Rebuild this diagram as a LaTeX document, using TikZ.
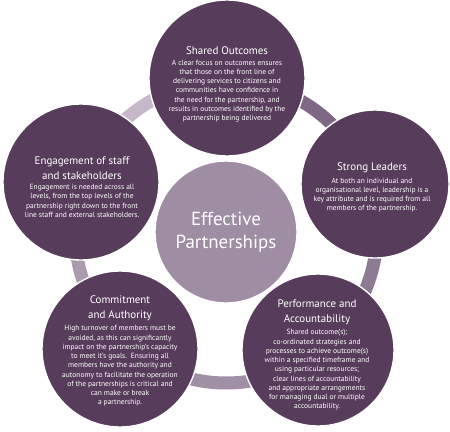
\documentclass[tikz,border=0pt]{standalone}
\usepackage{fontspec}
\setmainfont{PT Sans}
\usepackage{tikz}
\usetikzlibrary{positioning, calc}
\definecolor{plum}{HTML}{583C5C}
\definecolor{hubFill}{HTML}{9E8DA3}
\definecolor{ringTL}{HTML}{C5B9C9}
\definecolor{ringTR}{HTML}{7E6885}
\definecolor{ringR}{HTML}{8D7A93}
\definecolor{ringB}{HTML}{A090A6}
\definecolor{ringL}{HTML}{AA9BAF}

\begin{document}
\begin{tikzpicture}[x=1bp, y=1bp, node distance=4.5bp]
    \tikzset{
      pillar/.style={circle, fill=plum, draw=white, line width=1.4bp,
                     minimum size=156bp, inner sep=0pt},
      hubc/.style={circle, fill=hubFill, draw=white, line width=1.4bp,
                   minimum size=142bp, inner sep=0pt, text=white, align=center,
                   font=\fontsize{19}{23}\selectfont},
      head/.style={text=white, align=center, inner sep=0pt,
                   font=\fontsize{11}{14.5}\selectfont},
      body/.style={text=white, align=center, inner sep=0pt,
                   font=\fontsize{7.5}{9.3}\selectfont},
      ring/.style={line width=13bp}
    }
    \fill[white] (0,0) rectangle (450,431);
    \useasboundingbox (0,0) rectangle (450,431);
    \coordinate (mid) at (226,199);
    % ring behind the circles
    \draw[ring, draw=ringTR] ($(mid)+(89.6:151)$) arc[start angle=89.6, end angle=17.9, radius=151];
    \draw[ring, draw=ringR] ($(mid)+(17.9:151)$) arc[start angle=17.9, end angle=-52, radius=151];
    \draw[ring, draw=ringB] ($(mid)+(-52:151)$) arc[start angle=-52, end angle=-132, radius=151];
    \draw[ring, draw=ringL] ($(mid)+(-132:151)$) arc[start angle=-132, end angle=-199, radius=151];
    \draw[ring, draw=ringTL] ($(mid)+(161:151)$) arc[start angle=161, end angle=89.6, radius=151];
    % circles
    \node[hubc] (hub) at (mid) {Effective\\Partnerships};
    \node[pillar] (so) at (227,353) {};
    \node[pillar, minimum size=148bp] (sl) at (375,247) {};
    \node[pillar] (es) at (81,249) {};
    \node[pillar] (ca) at (120,82) {};
    \node[pillar, minimum size=152bp] (pa) at (318,81) {};
    % texts
    \node[body] (soB) at (227,340) {A clear focus on outcomes ensures\\that those on the front line of\\delivering services to citizens and\\communities have confidence in\\the need for the partnership, and\\results in outcomes identified by the\\partnership being delivered};
    \node[head, above=of soB] (soH) {Shared Outcomes};
    \node[body] (slB) at (372,236) {At both an individual and\\organisational level, leadership is a\\key attribute and is required from all\\members of the partnership.};
    \node[head, above=of slB] (slH) {Strong Leaders};
    \node[body] (esB) at (82,230) {Engagement is needed across all\\levels, from the top levels of the\\partnership right down to the front\\line staff and external stakeholders.};
    \node[head, above=of esB] (esH) {Engagement of staff\\and stakeholders};
    \node[body] (caB) at (120,65) {High turnover of members must be\\avoided, as this can significantly\\impact on the partnership's capacity\\to meet it's goals.\ \ Ensuring all\\members have the authority and\\autonomy to facilitate the operation\\of the partnerships is critical and\\can make or break\\a partnership.};
    \node[head, above=of caB] (caH) {Commitment\\and Authority};
    \node[body] (paB) at (317,61) {Shared outcome(s);\\co-ordinated strategies and\\processes to achieve outcome(s)\\within a specified timeframe and\\using particular resources;\\clear lines of accountability\\and appropriate arrangements\\for managing dual or multiple\\accountability.};
    \node[head, above=of paB] (paH) {Performance and\\Accountability};
\end{tikzpicture}
\end{document}
